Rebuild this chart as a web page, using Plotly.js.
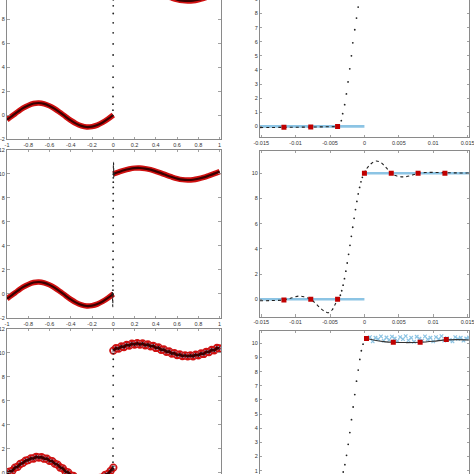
<!DOCTYPE html>
<html><head><meta charset="utf-8">
<script src="https://cdn.plot.ly/plotly-3.0.1.min.js"></script>
<style>
html,body{margin:0;padding:0;overflow:hidden;width:474px;height:474px;background:#fff}
#plot{position:absolute;left:-20px;top:-40px;width:514px;height:560px}
</style>
</head><body><div id="plot"></div>
<script>
// ---------- smooth curves (rows 1 and 2, left panels) ----------
const xLeft = [-1,-0.95,-0.9,-0.85,-0.8,-0.75,-0.7,-0.65,-0.6,-0.55,-0.5,-0.45,-0.4,-0.35,-0.3,-0.25,-0.2,-0.15,-0.1,-0.05,0];
const yLeft = [-0.39,-0.07,0.26,0.57,0.80,0.96,1.00,0.93,0.76,0.51,0.20,-0.13,-0.45,-0.72,-0.91,-1.00,-0.97,-0.84,-0.62,-0.33,0.00];
const xRight = [0,0.05,0.1,0.15,0.2,0.25,0.3,0.35,0.4,0.45,0.5,0.55,0.6,0.65,0.7,0.75,0.8,0.85,0.9,0.95,1];
const yRight = [10.00,10.16,10.31,10.42,10.49,10.50,10.45,10.36,10.22,10.07,9.90,9.75,9.62,9.53,9.50,9.52,9.60,9.72,9.87,10.03,10.20];

// ---------- noisy curves (row 3, left panel) ----------
const xNoisyLeft = [-1,-0.975,-0.95,-0.925,-0.9,-0.875,-0.85,-0.825,-0.8,-0.775,-0.75,-0.725,-0.7,-0.675,-0.65,-0.625,-0.6,-0.575,-0.55,-0.525,-0.5,-0.475,-0.45,-0.425,-0.4,-0.375,-0.35,-0.325,-0.3,-0.275,-0.25,-0.225,-0.2,-0.175,-0.15,-0.125,-0.1,-0.075,-0.05,-0.025,0];
const yNoisyLeft = [-0.05,0.12,0.18,0.45,0.52,0.75,0.84,1.02,1.08,1.22,1.21,1.35,1.28,1.32,1.19,1.20,1.02,0.99,0.78,0.70,0.46,0.38,0.12,0.05,-0.20,-0.24,-0.48,-0.47,-0.66,-0.62,-0.74,-0.66,-0.71,-0.58,-0.58,-0.40,-0.36,-0.15,-0.07,0.18,0.45];
const xNoisyRight = [0,0.025,0.05,0.075,0.1,0.125,0.15,0.175,0.2,0.225,0.25,0.275,0.3,0.325,0.35,0.375,0.4,0.425,0.45,0.475,0.5,0.525,0.55,0.575,0.6,0.625,0.65,0.675,0.7,0.725,0.75,0.775,0.8,0.825,0.85,0.875,0.9,0.925,0.95,0.975,1];
const yNoisyRight = [10.20,10.40,10.36,10.55,10.50,10.68,10.62,10.78,10.70,10.82,10.70,10.79,10.64,10.71,10.55,10.60,10.42,10.46,10.26,10.29,10.10,10.13,9.95,9.99,9.82,9.88,9.74,9.81,9.72,9.80,9.73,9.86,9.80,9.96,9.92,10.10,10.07,10.26,10.22,10.42,10.38];

// ---------- row 1, zoom near the jump ----------
const flat1X = [-0.0152,-0.0117,-0.0078,-0.0039];
const flat1Y = [-0.09,-0.07,-0.05,-0.02];
const steep1X = [-0.00336,-0.00316,-0.00287,-0.00262,-0.00238,-0.00213,-0.00189,-0.00169,-0.0014,-0.00115,-0.00091,-0.00068,-0.00045,-0.0002];
const steep1Y = [0.40,0.90,1.54,2.30,3.15,4.08,5.00,5.92,6.85,7.68,8.46,9.10,9.60,9.90];
const nodes1X = [-0.0117,-0.0078,-0.0039];
const nodes1Y = [-0.07,-0.05,-0.02];
const exact1X = [-0.0152,0];
const exact1Y = [0,0];

// ---------- row 2, zoom near the jump ----------
const oscA2X = [-0.0152,-0.0135,-0.0117,-0.0105,-0.0095,-0.0087,-0.0078,-0.007,-0.0062,-0.0056,-0.0052,-0.0047,-0.0043,-0.0039];
const oscA2Y = [-0.12,-0.10,-0.05,0.12,0.26,0.18,0.00,-0.38,-0.80,-1.00,-1.06,-0.85,-0.45,0.00];
const steep2X = [-0.0037,-0.0035,-0.0033,-0.0031,-0.0029,-0.0027,-0.0025,-0.0023,-0.0021,-0.0019,-0.0017,-0.0015,-0.0013,-0.0011,-0.0009,-0.0007,-0.0005,-0.0003,-0.0001];
const steep2Y = [0.03,0.32,0.68,1.12,1.64,2.23,2.88,3.57,4.28,5.00,5.72,6.43,7.12,7.77,8.36,8.88,9.32,9.68,9.97];
const oscB2X = [-0.0001,0.0003,0.0007,0.0011,0.0017,0.0023,0.0029,0.0034,0.0039,0.0045,0.0052,0.0058,0.0065,0.0072,0.0078,0.0088,0.0100,0.0117,0.0135,0.0152];
const oscB2Y = [9.97,10.35,10.62,10.82,10.98,10.88,10.60,10.30,10.00,9.82,9.73,9.72,9.78,9.90,10.00,10.06,10.07,10.05,10.03,10.02];
const nodes2X = [-0.0117,-0.0078,-0.0039,0,0.0039,0.0078,0.0117];
const nodes2Y = [-0.05,0,0,10,10,10,10];
const exact2X = [-0.0152,0,null,0,0.0152];
const exact2Y = [0,0,null,10,10];

// ---------- row 3, zoom near the jump (noisy) ----------
const steep3X = [-0.0035,-0.0033,-0.00308,-0.00284,-0.0026,-0.00236,-0.00212,-0.00188,-0.00164,-0.0014,-0.00115,-0.0009,-0.00067,-0.00045,-0.0002];
const steep3Y = [0.25,0.55,0.90,1.42,2.08,2.86,3.69,4.60,5.50,6.38,7.33,8.11,8.87,9.48,9.95];
const fit3X = [0.0003,0.0015,0.0028,0.0042,0.006,0.0081,0.0100,0.0119,0.0135,0.0152];
const fit3Y = [10.35,10.22,10.13,10.08,10.06,10.08,10.15,10.25,10.27,10.24];
const nodes3X = [0.0003,0.0042,0.0081,0.0119];
const nodes3Y = [10.35,10.08,10.08,10.28];
const data3X = [0.0008,0.0012,0.0016,0.002,0.0024,0.0028,0.0032,0.0036,0.004,0.0044,0.0048,0.0052,0.0056,0.006,0.0064,0.0068,0.0072,0.0076,0.008,0.0084,0.0088,0.0092,0.0096,0.01,0.0104,0.0108,0.0112,0.0116,0.012,0.0124,0.0128,0.0132,0.0136,0.014,0.0144,0.0148,0.0152];
const data3Y = [10.45,10.15,10.40,10.30,10.50,10.20,10.42,10.25,10.48,10.35,10.18,10.45,10.30,10.52,10.22,10.40,10.12,10.47,10.33,10.20,10.50,10.28,10.40,10.15,10.45,10.30,10.52,10.20,10.38,10.25,10.15,10.45,10.32,10.40,10.20,10.35,10.42];

// ---------- tick labels ----------
const xTicksWide = [-1,-0.8,-0.6,-0.4,-0.2,0,0.2,0.4,0.6,0.8,1];
const xTickTextWide = ['-1','-0.8','-0.6','-0.4','-0.2','0','0.2','0.4','0.6','0.8','1'];
const yTicksWide = [-2,0,2,4,6,8,10,12];
const yTickTextWide = ['-2','0','2','4','6','8','10','12'];
const xTicksZoom = [-0.015,-0.01,-0.005,0,0.005,0.01,0.015];
const xTickTextZoom = ['-0.015','-0.01','-0.005','0','0.005','0.01','0.015'];
const yTicksZoom1 = [0,1,2,3,4,5,6,7,8,9,10];
const yTickTextZoom1 = ['0','1','2','3','4','5','6','7','8','9','10'];
const yTicksZoom2 = [0,2,4,6,8,10];
const yTickTextZoom2 = ['0','2','4','6','8','10'];

// ---------- styling ----------
const RED = '#d01010', DARK = '#3a0000', BLUE = '#8cc4e4', NODE = '#c00000', BLK = '#222';
const traces = [];
function thick(x, y, ax) {
  traces.push({x:x, y:y, xaxis:'x'+ax, yaxis:'y'+ax, mode:'lines', line:{color:RED, width:5.5, shape:'spline'}, hoverinfo:'skip'});
  traces.push({x:x, y:y, xaxis:'x'+ax, yaxis:'y'+ax, mode:'lines', line:{color:DARK, width:2.2, shape:'spline'}, hoverinfo:'skip'});
}
function noisy(x, y, ax) {
  traces.push({x:x, y:y, xaxis:'x'+ax, yaxis:'y'+ax, mode:'lines', line:{color:RED, width:6}, hoverinfo:'skip'});
  traces.push({x:x, y:y, xaxis:'x'+ax, yaxis:'y'+ax, mode:'markers', marker:{symbol:'circle-open', size:6.5, color:RED, line:{width:1.8, color:RED}}, hoverinfo:'skip'});
  traces.push({x:x, y:y, xaxis:'x'+ax, yaxis:'y'+ax, mode:'markers', marker:{symbol:'x-thin', size:4, color:'#7fa9c4', line:{width:1, color:'#7fa9c4'}}, hoverinfo:'skip'});
  traces.push({x:x, y:y, xaxis:'x'+ax, yaxis:'y'+ax, mode:'lines', line:{color:DARK, width:2.6}, hoverinfo:'skip'});
}
function dotline(x, y, ax) {
  traces.push({x:x, y:y, xaxis:'x'+ax, yaxis:'y'+ax, mode:'lines', line:{color:BLK, width:1.1, dash:'dot', shape:'spline'}, hoverinfo:'skip'});
}
function dots(x, y, ax) {
  traces.push({x:x, y:y, xaxis:'x'+ax, yaxis:'y'+ax, mode:'markers', marker:{color:BLK, size:1.8}, hoverinfo:'skip'});
}
function exact(x, y, ax) {
  traces.push({x:x, y:y, xaxis:'x'+ax, yaxis:'y'+ax, mode:'lines', line:{color:BLUE, width:2.6}, hoverinfo:'skip'});
}
function nodes(x, y, ax) {
  traces.push({x:x, y:y, xaxis:'x'+ax, yaxis:'y'+ax, mode:'markers', marker:{symbol:'square', color:NODE, size:5}, hoverinfo:'skip'});
}

// row 1 left (axis 1)
thick(xLeft, yLeft, ''); thick(xRight, yRight, '');
dotline(flat1X, flat1Y, ''); dots(steep1X, steep1Y, '');
// row 1 right (axis 2)
exact(exact1X, exact1Y, 2); dotline(flat1X, flat1Y, 2); dots(steep1X, steep1Y, 2); nodes(nodes1X, nodes1Y, 2);
// row 2 left (axis 3)
thick(xLeft, yLeft, 3); thick(xRight, yRight, 3);
dotline(oscA2X, oscA2Y, 3); dots(steep2X, steep2Y, 3); dotline(oscB2X, oscB2Y, 3);
// row 2 right (axis 4)
exact(exact2X, exact2Y, 4); dotline(oscA2X, oscA2Y, 4); dots(steep2X, steep2Y, 4); dotline(oscB2X, oscB2Y, 4); nodes(nodes2X, nodes2Y, 4);
// row 3 left (axis 5)
noisy(xNoisyLeft, yNoisyLeft, 5); noisy(xNoisyRight, yNoisyRight, 5); dots(steep3X, steep3Y, 5);
// row 3 right (axis 6)
dots(steep3X, steep3Y, 6);
traces.push({x:data3X, y:data3Y, xaxis:'x6', yaxis:'y6', mode:'markers', marker:{symbol:'x-thin', size:3.5, color:BLUE, line:{width:1.2, color:BLUE}}, hoverinfo:'skip'});
traces.push({x:fit3X, y:fit3Y, xaxis:'x6', yaxis:'y6', mode:'lines', line:{color:'#333', width:1.1, shape:'spline'}, hoverinfo:'skip'});
nodes(nodes3X, nodes3Y, 6);

const FONT = {family:'Liberation Sans, Arial, sans-serif', size:5.5, color:'#333'};
function ax(extra) {
  return Object.assign({showline:true, mirror:'allticks', linecolor:'#8a8a8a', linewidth:1,
    ticks:'inside', ticklen:2.5, tickcolor:'#8a8a8a', tickwidth:0.8, showgrid:false, zeroline:false,
    tickfont:FONT, fixedrange:true, tickmode:'array'}, extra);
}
const dL = [0, 0.463], dR = [0.5473, 1];
const layout = {
  width:514, height:560, margin:{l:26.7, r:24.5, t:11, b:23}, showlegend:false,
  paper_bgcolor:'#fff', plot_bgcolor:'#fff',
  xaxis: ax({domain:dL, range:[-1,1.012], anchor:'y', tickvals:xTicksWide, ticktext:xTickTextWide}),
  yaxis: ax({domain:[0.6806,1], range:[-2,12], anchor:'x', tickvals:yTicksWide, ticktext:yTickTextWide}),
  xaxis2: ax({domain:dR, range:[-0.0152,0.0152], anchor:'y2', tickvals:xTicksZoom, ticktext:xTickTextZoom}),
  yaxis2: ax({domain:[0.6835,0.9966], range:[-0.79,10.89], anchor:'x2', tickvals:yTicksZoom1, ticktext:yTickTextZoom1}),
  xaxis3: ax({domain:dL, range:[-1,1.012], anchor:'y3', tickvals:xTicksWide, ticktext:xTickTextWide}),
  yaxis3: ax({domain:[0.3403,0.6597], range:[-2,12], anchor:'x3', tickvals:yTicksWide, ticktext:yTickTextWide}),
  xaxis4: ax({domain:dR, range:[-0.0152,0.0152], anchor:'y4', tickvals:xTicksZoom, ticktext:xTickTextZoom}),
  yaxis4: ax({domain:[0.3428,0.6578], range:[-1.38,11.77], anchor:'x4', tickvals:yTicksZoom2, ticktext:yTickTextZoom2}),
  xaxis5: ax({domain:dL, range:[-1,1.012], anchor:'y5', tickvals:xTicksWide, ticktext:xTickTextWide}),
  yaxis5: ax({domain:[0,0.3194], range:[-2,12], anchor:'x5', tickvals:yTicksWide, ticktext:yTickTextWide}),
  xaxis6: ax({domain:dR, range:[-0.0152,0.0152], anchor:'y6', tickvals:xTicksZoom, ticktext:xTickTextZoom}),
  yaxis6: ax({domain:[0.0019,0.3156], range:[-0.8,10.88], anchor:'x6', tickvals:yTicksZoom1, ticktext:yTickTextZoom1})
};
Plotly.newPlot('plot', traces, layout, {staticPlot:true, displayModeBar:false});
</script></body></html>
